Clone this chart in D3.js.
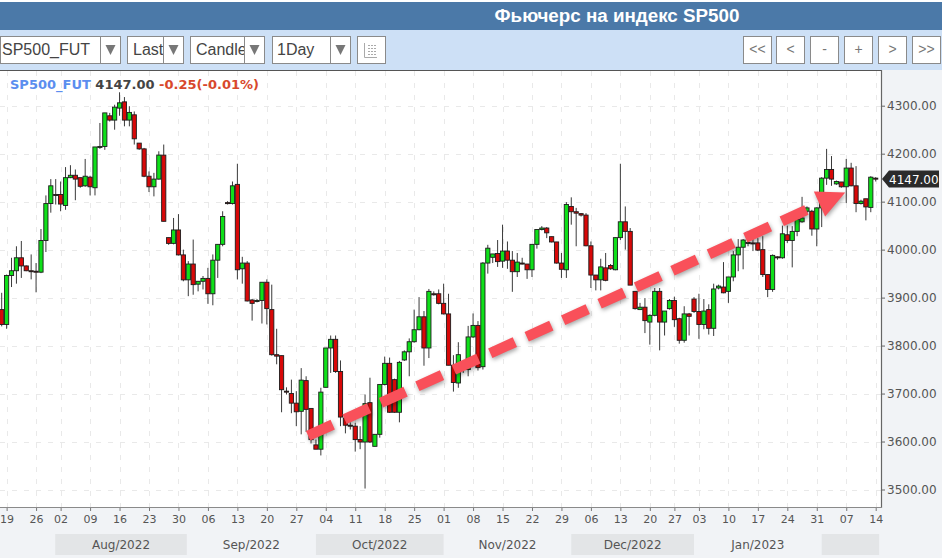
<!DOCTYPE html>
<html><head><meta charset="utf-8">
<script src="https://cdnjs.cloudflare.com/ajax/libs/d3/7.8.5/d3.min.js"></script>
<style>html,body{margin:0;padding:0;background:#fff}svg{display:block}</style>
</head><body><svg id="c" width="942" height="558"></svg>
<script>
const titleText="Фьючерс на индекс SP500";
const opens=[3875,3844,3946,3956,3983,3966,3956,3955,3953,4019,4096,4115,4115,4092,4150,4155,4150,4133,4151,4129,4213,4215,4279,4270,4295,4308,4270,4281,4222,4210,4153,4131,4147,4197,4025,4013,4041,3989,3937,3970,3928,3934,3940,3908,3978,4011,4098,4096,4136,
3960,3972,3895,3892,3894,3932,3875,3781,3779,3705,3700,3680,3663,3727,3669,3593,3584,3713,3795,3813,3746,3649,3634,3632,3604,3599,3681,3590,3615,3719,3763,3729,3661,3770,3787,3808,3833,3860,3795,3908,
3908,3888,3866,3759,3722,3750,3750,3818,3842,3756,3972,3984,3992,3976,3997,3978,3954,3972,3970,3958,4011,4042,4045,4027,4016,3972,3958,4090,4079,4075,4072,4008,3947,3937,3962,3967,3958,4025,4058,4038,3913,3875,3880,3849,3863,3913,3849,
3877,3894,3856,3811,3866,3897,3871,3844,3875,3836,3920,3922,3913,3943,3989,4005,4014,4014,4014,4000,3948,3917,3985,3983,4031,4019,4038,4058,4080,4080,4043,4087,4149,4167,4137,4141,4131,4170,4133,4096,4106,4088,4149];
const highs=[3910,3948,3983,4007,4018,3967,3990,3972,4043,4113,4147,4147,4142,4172,4176,4167,4150,4189,4154,4214,4264,4285,4285,4302,4328,4318,4299,4288,4222,4212,4163,4160,4205,4219,4025,4066,4074,4000,3976,4021,3934,3945,3962,3990,4011,4080,4101,4142,4179,
3985,3976,3897,3897,3932,3938,3927,3835,3779,3713,3729,3705,3753,3736,3669,3604,3712,3795,3821,3821,3769,3655,3640,3639,3632,3698,3733,3615,3719,3777,3775,3731,3768,3790,3815,3875,3901,3872,3918,3913,
3917,3929,3908,3780,3807,3764,3841,3867,3851,3974,4010,3991,4020,4052,4017,3997,3993,3983,3970,4011,4042,4049,4047,4027,4016,3993,4099,4109,4087,4076,4076,4017,3947,3981,3993,3970,4025,4179,4090,4045,3913,3889,3899,3865,3920,3920,3872,
3897,3902,3858,3882,3868,3901,3908,3897,3886,3929,3927,3974,3943,3997,4022,4022,4021,4024,4024,4028,3948,3990,3986,4050,4050,4049,4075,4110,4090,4083,4088,4151,4210,4195,4144,4141,4189,4181,4174,4104,4106,4153,4151];
const lows=[3840,3835,3922,3929,3941,3955,3938,3911,3951,3995,4077,4094,4080,4083,4149,4103,4129,4131,4113,4113,4210,4208,4267,4250,4279,4257,4257,4219,4208,4151,4120,4111,4146,4059,4010,4011,3988,3934,3903,3906,3913,3917,3887,3884,3941,4007,4094,4094,3938,
3929,3892,3852,3890,3846,3844,3779,3761,3661,3698,3659,3632,3615,3620,3596,3584,3571,3713,3743,3743,3632,3617,3625,3579,3584,3502,3597,3590,3608,3717,3660,3660,3640,3768,3736,3806,3832,3758,3774,3904,
3886,3865,3759,3704,3712,3743,3736,3816,3748,3750,3950,3972,3964,3962,3960,3912,3943,3969,3939,3943,4002,4040,4024,4015,3971,3941,3941,4052,4007,4069,4007,3920,3915,3915,3934,3958,3957,4020,4000,3926,3875,3874,3826,3802,3861,3790,3821,
3875,3839,3804,3806,3821,3868,3814,3834,3823,3820,3917,3909,3889,3934,3955,3959,4007,3997,3997,3943,3901,3912,3979,3981,4014,3963,4028,4056,4075,4029,4007,4047,4135,4133,4135,4129,4097,4132,4078,4094,4061,4078,4142];
const closes=[3844,3946,3956,3983,3966,3956,3954,3953,4019,4096,4133,4113,4095,4150,4155,4147,4132,4153,4131,4214,4215,4285,4270,4297,4306,4270,4286,4231,4210,4153,4131,4147,4197,4059,4013,4041,3989,3937,3970,3927,3934,3940,3908,3978,4011,4069,4096,4133,3958,
3972,3893,3888,3894,3932,3877,3781,3778,3708,3703,3680,3662,3728,3667,3604,3584,3703,3795,3813,3746,3651,3634,3632,3604,3599,3679,3599,3615,3719,3763,3661,3661,3765,3787,3808,3833,3860,3795,3913,3906,
3888,3866,3759,3723,3781,3755,3818,3842,3754,3972,4003,3991,3975,3997,3978,3954,3974,3970,3958,4011,4042,4045,4035,4016,3972,3959,4094,4079,4076,4072,4008,3947,3937,3964,3936,3960,4025,4058,4038,3926,3877,3880,3852,3863,3913,3849,3872,
3894,3854,3811,3866,3861,3871,3844,3872,3836,3918,3924,3910,3943,3989,4005,4020,4015,4012,3999,3948,3917,3988,3983,4033,4019,4038,4063,4066,4087,4043,4087,4149,4167,4147,4142,4131,4170,4133,4096,4101,4089,4151,4147];
const yTicks=[3500,3600,3700,3800,3900,4000,4100,4200,4300];
const xTickPos=[1,7,12,18,24,30,36,42,48,54,60,66,72,78,84,90,96,102,108,114,120,126,132,137,142,148,154,160,166,172,178];
const xTickLabels=["19","26","02","09","16","23","30","06","13","20","27","04","11","18","25","01","08","15","22","29","06","13","20","27","03","10","17","24","31","07","14"];
const months=["Aug/2022","Sep/2022","Oct/2022","Nov/2022","Dec/2022","Jan/2023",""];
const monthStart=[10.9,37.7,64,90,116,141,167];
const monthEnd=[37.7,64,90,116,141,167,178.7];
const lastPrice=4147;
const legendName="SP500_FUT", legendPrice="4147.00", legendChange="-0.25(-0.01%)";
const selects=["SP500_FUT","Last","Candle","1Day"];
const buttons=["<<","<","-","+",">",">>"];
const trendFrom=[62.4,3612], trendTo=[164,4083];
const trendHead=[[165.4,4121],[171.8,4119],[167.7,4069]];

const svg=d3.select("#c");
const sans="'Liberation Sans',Arial,sans-serif", dj="'DejaVu Sans',sans-serif";
const x=d3.scaleLinear().domain([0,178]).range([1.7,875.7]);
const y=d3.scaleLinear().domain([3500,4300]).range([489.5,105.7]);
const P={l:0,r:881,t:71,b:507};

svg.append("rect").attr("width",942).attr("height",558).attr("fill","#f1f3f6");
svg.append("rect").attr("width",942).attr("height",2).attr("fill","#fff");
svg.append("rect").attr("y",2).attr("width",942).attr("height",28).attr("fill","#4b79a8");
svg.append("text").attr("x",617).attr("y",22).attr("text-anchor","middle").attr("fill","#fff")
  .attr("font-family",sans).attr("font-weight","bold").attr("font-size",18.8).text(titleText);
svg.append("rect").attr("y",30).attr("width",942).attr("height",40).attr("fill","#cde0f6");

// toolbar
const selBox=[[0,121,100],[127,184,163],[190,265,244],[272,351,330]];
const selTx=[2,133,196,277];
const bar=svg.append("g");
selBox.forEach((b,i)=>{
  const id="sel"+i;
  svg.append("clipPath").attr("id",id).append("rect").attr("x",b[0]).attr("y",36).attr("width",b[2]-b[0]).attr("height",27);
  bar.append("rect").attr("x",b[0]+.5).attr("y",36.5).attr("width",b[1]-b[0]-1).attr("height",27).attr("fill","#fff").attr("stroke","#8a8a8a");
  bar.append("text").attr("x",selTx[i]).attr("y",55).attr("clip-path",`url(#${id})`).attr("font-family",sans).attr("font-size",16).attr("fill","#444").text(selects[i]);
  bar.append("line").attr("x1",b[2]+.5).attr("x2",b[2]+.5).attr("y1",36).attr("y2",63).attr("stroke","#8a8a8a");
  const cx=(b[2]+b[1])/2;
  bar.append("path").attr("d",`M${cx-5},45L${cx+5},45L${cx},55Z`).attr("fill","#777");
});
bar.append("rect").attr("x",357.5).attr("y",36.5).attr("width",28).attr("height",27).attr("fill","#fff").attr("stroke","#8a8a8a");
const ic=bar.append("g").attr("stroke","#aaa").attr("stroke-width",1).attr("fill","none");
ic.append("path").attr("d","M364.5,43V57.5H377");
d3.range(4).forEach(k=>ic.append("path").attr("d",`M368,${45.5+k*3}H376`).attr("stroke-dasharray","2 1"));
buttons.forEach((t,i)=>{
  const bx=Math.floor(743+i*33.8);
  bar.append("rect").attr("x",bx+.5).attr("y",36.5).attr("width",28).attr("height",27).attr("fill","#fff").attr("stroke","#8a8a8a");
  bar.append("text").attr("x",bx+14.5).attr("y",54).attr("text-anchor","middle").attr("font-family",sans).attr("font-size",14).attr("fill","#777").text(t);
});

// month bands
const band=svg.append("g");
months.forEach((m,i)=>{
  if(i%2===0) band.append("rect").attr("x",x(monthStart[i])).attr("y",534).attr("width",x(monthEnd[i])-x(monthStart[i])).attr("height",21).attr("fill","#e3e5e7");
  band.append("text").attr("x",(x(monthStart[i])+x(monthEnd[i]))/2).attr("y",549).attr("text-anchor","middle").attr("font-family",dj).attr("font-size",12).attr("fill","#555").text(m);
});

// plot background + grid
svg.append("rect").attr("x",P.l).attr("y",P.t).attr("width",P.r-P.l).attr("height",P.b-P.t).attr("fill","#fff");
svg.append("clipPath").attr("id","plot").append("rect").attr("x",P.l).attr("y",P.t).attr("width",P.r-P.l).attr("height",P.b-P.t);
const grid=svg.append("g").attr("clip-path","url(#plot)").attr("stroke","#e9e9e9").attr("stroke-dasharray","5 7");
yTicks.forEach(v=>grid.append("line").attr("x1",P.l).attr("x2",P.r).attr("y1",Math.round(y(v))+.5).attr("y2",Math.round(y(v))+.5));
xTickPos.forEach(v=>grid.append("line").attr("x1",Math.round(x(v))+.5).attr("x2",Math.round(x(v))+.5).attr("y1",P.t).attr("y2",P.b));

// candles
const idx=d3.range(opens.length);
const gc=svg.append("g").attr("clip-path","url(#plot)");
gc.selectAll("line.w").data(idx).join("line").attr("class","w")
  .attr("x1",i=>x(i)).attr("x2",i=>x(i)).attr("y1",i=>y(highs[i])).attr("y2",i=>y(lows[i]))
  .attr("stroke","#3a3a3a").attr("stroke-width",1);
gc.selectAll("rect.b").data(idx).join("rect").attr("class","b")
  .attr("x",i=>x(i)-2.1).attr("width",4.2)
  .attr("y",i=>y(Math.max(opens[i],closes[i])))
  .attr("height",i=>Math.max(1,Math.abs(y(opens[i])-y(closes[i]))))
  .attr("fill",i=>closes[i]>=opens[i]?"#0fe01a":"#d80808")
  .attr("stroke","#1c1c1c").attr("stroke-width",.9);

// frame
svg.append("line").attr("x1",0).attr("x2",P.r+1).attr("y1",70.5).attr("y2",70.5).attr("stroke","#555").attr("stroke-width",1.2);
svg.append("line").attr("x1",P.r+.5).attr("x2",P.r+.5).attr("y1",70).attr("y2",P.b+1).attr("stroke","#666").attr("stroke-width",1.2);

// axes
const axR=svg.append("g").attr("transform",`translate(${P.r},0)`)
  .call(d3.axisRight(y).tickValues(yTicks).tickFormat(d3.format(".2f")).tickSize(4).tickPadding(2));
axR.select(".domain").remove();
axR.selectAll("line").attr("stroke","#666");
axR.selectAll("text").attr("font-family",dj).attr("font-size",12).attr("fill","#555");
const labelOf=new Map(xTickPos.map((p,i)=>[p,xTickLabels[i]]));
const axB=svg.append("g").attr("transform",`translate(0,${P.b})`)
  .call(d3.axisBottom(x).tickValues(xTickPos).tickFormat(d=>labelOf.get(d)).tickSize(4).tickPadding(4));
axB.select(".domain").remove();
axB.selectAll("line").attr("stroke","#777");
axB.selectAll("text").attr("font-family",dj).attr("font-size",11).attr("fill","#555");
svg.append("line").attr("x1",0).attr("x2",P.r+1).attr("y1",P.b+.5).attr("y2",P.b+.5).attr("stroke","#8a8a8a").attr("stroke-width",1.2);

// legend
const lg=svg.append("text").attr("x",10).attr("y",89).attr("font-family",dj).attr("font-weight","bold").attr("font-size",13);
lg.append("tspan").attr("fill","#5b8eef").text(legendName+" ");
lg.append("tspan").attr("fill","#444").text(legendPrice+" ");
lg.append("tspan").attr("fill","#d8482c").text(legendChange);

// last price tag
const ly=y(lastPrice);
svg.append("path").attr("d",`M882,${ly}L889,${ly-8.5}H939V${ly+8.5}H889Z`).attr("fill","#2b2b2b");
svg.append("text").attr("x",889).attr("y",ly+4.5).attr("font-family",dj).attr("font-size",12).attr("fill","#fff").text(lastPrice.toFixed(2));

// trend arrow
const arrow=svg.append("g").style("filter","drop-shadow(1px 2px 2px rgba(0,0,0,.35))");
arrow.append("line").attr("x1",x(trendFrom[0])).attr("y1",y(trendFrom[1])).attr("x2",x(trendTo[0])).attr("y2",y(trendTo[1]))
  .attr("stroke","#f9505a").attr("stroke-width",10.5).attr("stroke-dasharray","27 13");
arrow.append("path").attr("d",d3.line().x(d=>x(d[0])).y(d=>y(d[1]))(trendHead)+"Z").attr("fill","#f9505a");
</script></body></html>
